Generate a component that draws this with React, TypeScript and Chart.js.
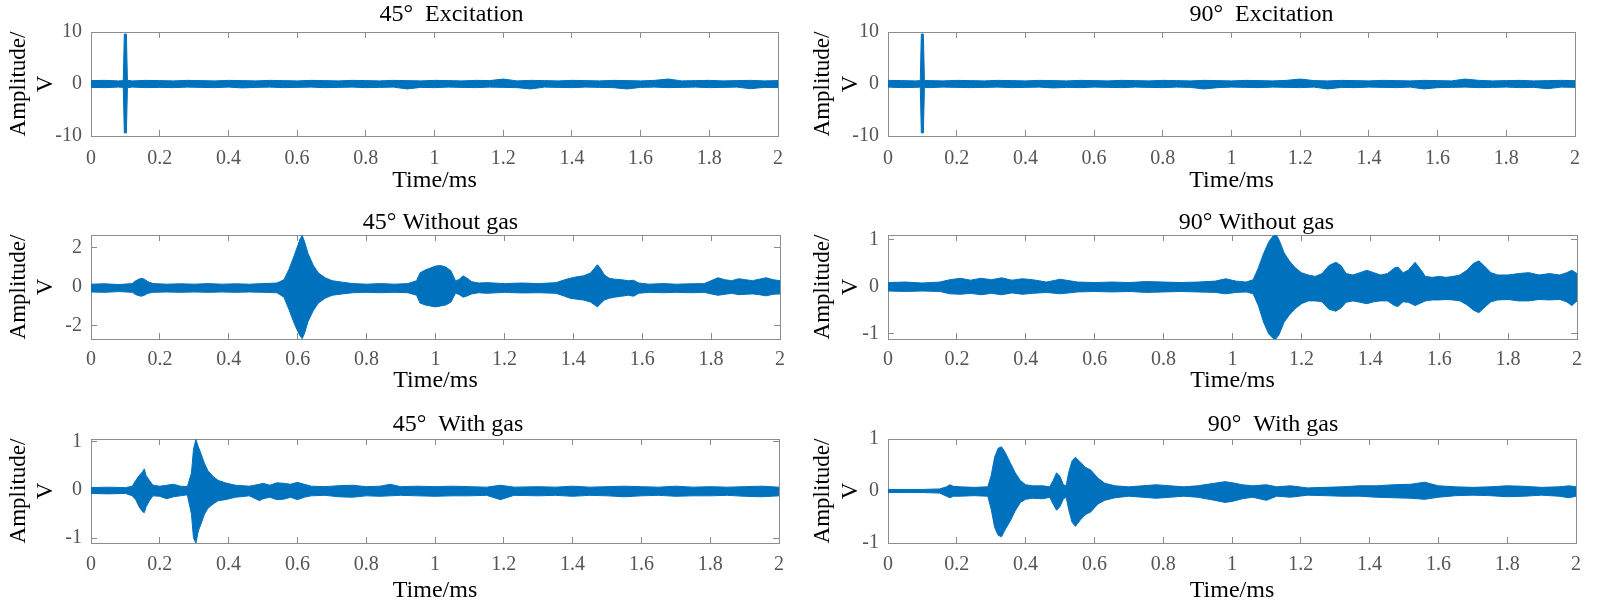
import React, { useEffect, useRef } from 'react';
import { Chart, registerables } from 'chart.js';

Chart.register(...registerables);

// ---------------- data ----------------
const xTickValues = [0, 0.2, 0.4, 0.6, 0.8, 1, 1.2, 1.4, 1.6, 1.8, 2];
const xTickLabels = ['0', '0.2', '0.4', '0.6', '0.8', '1', '1.2', '1.4', '1.6', '1.8', '2'];

const excYTicks = [-10, 0, 10];
const excYLabels = ['-10', '0', '10'];
const nogas45YTicks = [-2, 0, 2];
const nogas45YLabels = ['-2', '0', '2'];
const unitYTicks = [-1, 0, 1];
const unitYLabels = ['-1', '0', '1'];

// 45° excitation (envelope of the recorded signal)
const exc45Time = [
  0, 0.04, 0.08, 0.094, 0.097, 0.103, 0.106, 0.12, 0.16, 0.2,
  0.24, 0.28, 0.32, 0.36, 0.4, 0.44, 0.48, 0.52, 0.56, 0.6,
  0.64, 0.68, 0.72, 0.76, 0.8, 0.84, 0.88, 0.92, 0.96, 1.0,
  1.04, 1.08, 1.12, 1.16, 1.2, 1.24, 1.28, 1.32, 1.36, 1.4,
  1.44, 1.48, 1.52, 1.56, 1.6, 1.64, 1.68, 1.72, 1.76, 1.8,
  1.84, 1.88, 1.92, 1.96, 2.0,
];
const exc45Upper = [
  0.65, 0.7, 0.6, 0.65, 9.6, 9.6, 0.7, 0.6, 0.7, 0.65,
  0.6, 0.7, 0.65, 0.6, 0.7, 0.65, 0.6, 0.7, 0.65, 0.6,
  0.7, 0.65, 0.6, 0.7, 0.65, 0.6, 0.7, 0.65, 0.6, 0.7,
  0.65, 0.6, 0.7, 0.65, 0.95, 0.6, 0.7, 0.65, 0.6, 0.7,
  0.65, 0.6, 0.7, 0.65, 0.6, 0.7, 0.95, 0.6, 0.65, 0.7,
  0.6, 0.65, 0.7, 0.6, 0.65,
];
const exc45Lower = [
  -0.65, -0.7, -0.6, -0.65, -9.4, -9.4, -0.7, -0.6, -0.7, -0.65,
  -0.7, -0.6, -0.65, -0.7, -0.6, -0.75, -0.65, -0.6, -0.7, -0.65,
  -0.6, -0.7, -0.65, -0.6, -0.7, -0.65, -0.6, -0.95, -0.65, -0.7,
  -0.6, -0.65, -0.7, -0.6, -0.65, -0.7, -0.95, -0.6, -0.65, -0.7,
  -0.6, -0.65, -0.7, -0.95, -0.65, -0.6, -0.7, -0.65, -0.6, -0.7,
  -0.65, -0.6, -0.9, -0.65, -0.7,
];

// 90° excitation
const exc90Time = [
  0, 0.04, 0.08, 0.094, 0.097, 0.103, 0.106, 0.12, 0.16, 0.2,
  0.24, 0.28, 0.32, 0.36, 0.4, 0.44, 0.48, 0.52, 0.56, 0.6,
  0.64, 0.68, 0.72, 0.76, 0.8, 0.84, 0.88, 0.92, 0.96, 1.0,
  1.04, 1.08, 1.12, 1.16, 1.2, 1.24, 1.28, 1.32, 1.36, 1.4,
  1.44, 1.48, 1.52, 1.56, 1.6, 1.64, 1.68, 1.72, 1.76, 1.8,
  1.84, 1.88, 1.92, 1.96, 2.0,
];
const exc90Upper = [
  0.7, 0.65, 0.6, 0.65, 9.6, 9.6, 0.7, 0.65, 0.6, 0.7,
  0.65, 0.6, 0.7, 0.65, 0.6, 0.7, 0.65, 0.6, 0.7, 0.65,
  0.6, 0.7, 0.65, 0.6, 0.7, 0.65, 0.6, 0.7, 0.65, 0.6,
  0.7, 0.65, 0.6, 0.7, 0.95, 0.65, 0.6, 0.7, 0.65, 0.6,
  0.7, 0.65, 0.6, 0.7, 0.65, 0.6, 0.95, 0.7, 0.6, 0.65,
  0.7, 0.6, 0.65, 0.7, 0.65,
];
const exc90Lower = [
  -0.6, -0.7, -0.65, -0.6, -9.4, -9.4, -0.65, -0.7, -0.6, -0.65,
  -0.7, -0.65, -0.6, -0.7, -0.65, -0.6, -0.75, -0.65, -0.7, -0.6,
  -0.65, -0.7, -0.6, -0.65, -0.7, -0.6, -0.65, -0.95, -0.7, -0.6,
  -0.65, -0.7, -0.6, -0.65, -0.7, -0.6, -0.95, -0.65, -0.7, -0.6,
  -0.65, -0.7, -0.6, -0.95, -0.7, -0.65, -0.6, -0.7, -0.65, -0.6,
  -0.7, -0.65, -0.9, -0.6, -0.65,
];

// 45° without gas
const nogas45Time = [
  0, 0.04, 0.08, 0.12, 0.13, 0.145, 0.155, 0.165, 0.18, 0.22,
  0.26, 0.3, 0.34, 0.38, 0.42, 0.46, 0.5, 0.54, 0.56, 0.575,
  0.59, 0.6, 0.607, 0.613, 0.62, 0.63, 0.645, 0.66, 0.68, 0.7,
  0.73, 0.76, 0.8, 0.84, 0.88, 0.92, 0.945, 0.955, 0.97, 0.985,
  1.0, 1.015, 1.03, 1.045, 1.058, 1.068, 1.08, 1.09, 1.105, 1.125,
  1.15, 1.2, 1.25, 1.3, 1.35, 1.375, 1.39, 1.41, 1.43, 1.45,
  1.462, 1.47, 1.478, 1.49, 1.505, 1.52, 1.54, 1.56, 1.575, 1.59,
  1.62, 1.66, 1.7, 1.74, 1.78, 1.8, 1.82, 1.84, 1.86, 1.88,
  1.9, 1.92, 1.94, 1.96, 1.98, 2.0,
];
const nogas45Upper = [
  0.12, 0.14, 0.1, 0.15, 0.3, 0.42, 0.38, 0.25, 0.15, 0.12,
  0.14, 0.12, 0.15, 0.12, 0.14, 0.12, 0.15, 0.18, 0.35, 0.9,
  1.6, 2.1, 2.45, 2.62, 2.3, 1.7, 1.1, 0.7, 0.45, 0.3,
  0.22, 0.15, 0.12, 0.15, 0.12, 0.15, 0.3, 0.7, 0.85, 0.95,
  1.05, 1.08, 1.0, 0.8, 0.3, 0.35, 0.55, 0.45, 0.25, 0.18,
  0.2, 0.15, 0.18, 0.15, 0.2, 0.35, 0.42, 0.5, 0.55, 0.7,
  0.95, 1.12, 0.95, 0.6, 0.42, 0.38, 0.35, 0.3, 0.32, 0.18,
  0.12, 0.15, 0.12, 0.14, 0.15, 0.3, 0.45, 0.35, 0.3, 0.4,
  0.35, 0.3, 0.38, 0.45, 0.35, 0.3,
];
const nogas45Lower = [
  -0.28, -0.3, -0.26, -0.3, -0.42, -0.5, -0.45, -0.35, -0.3, -0.28,
  -0.3, -0.28, -0.3, -0.28, -0.3, -0.28, -0.3, -0.32, -0.55, -1.2,
  -1.9, -2.3, -2.55, -2.68, -2.4, -1.8, -1.25, -0.85, -0.6, -0.45,
  -0.38, -0.32, -0.3, -0.32, -0.3, -0.32, -0.45, -0.85, -0.95, -1.0,
  -1.05, -1.0, -0.95, -0.8, -0.35, -0.4, -0.55, -0.5, -0.38, -0.32,
  -0.35, -0.3, -0.33, -0.32, -0.35, -0.5, -0.6, -0.65, -0.7, -0.8,
  -0.95, -1.05, -0.9, -0.7, -0.6, -0.55, -0.5, -0.45, -0.5, -0.35,
  -0.3, -0.32, -0.3, -0.32, -0.3, -0.38, -0.45, -0.4, -0.35, -0.42,
  -0.4, -0.38, -0.42, -0.48, -0.4, -0.38,
];

// 90° without gas
const nogas90Time = [
  0, 0.05, 0.1, 0.15, 0.18, 0.21, 0.24, 0.27, 0.3, 0.33,
  0.36, 0.39, 0.42, 0.46, 0.5, 0.55, 0.6, 0.65, 0.7, 0.75,
  0.8, 0.85, 0.9, 0.95, 0.98, 1.01, 1.04, 1.06, 1.075, 1.09,
  1.105, 1.118, 1.127, 1.135, 1.15, 1.165, 1.18, 1.2, 1.22, 1.24,
  1.26, 1.28, 1.3, 1.315, 1.33, 1.35, 1.37, 1.39, 1.41, 1.43,
  1.45, 1.47, 1.48, 1.495, 1.51, 1.53, 1.545, 1.56, 1.58, 1.6,
  1.62, 1.64, 1.66, 1.68, 1.7, 1.715, 1.73, 1.75, 1.77, 1.8,
  1.83, 1.86, 1.89, 1.92, 1.95, 1.97, 1.985, 2.0,
];
const nogas90Upper = [
  0.09, 0.1, 0.08, 0.1, 0.15, 0.18, 0.14, 0.18, 0.15, 0.19,
  0.14, 0.17, 0.15, 0.1, 0.16, 0.1, 0.09, 0.1, 0.09, 0.11,
  0.1, 0.09, 0.1, 0.12, 0.17, 0.12, 0.1, 0.15, 0.4, 0.7,
  0.95, 1.08, 1.1, 1.0, 0.72, 0.55, 0.42, 0.3, 0.25, 0.22,
  0.28, 0.45, 0.52, 0.45, 0.28, 0.25, 0.3, 0.35, 0.3, 0.25,
  0.28, 0.4, 0.42, 0.3, 0.35, 0.52, 0.38, 0.22, 0.2, 0.22,
  0.2, 0.22, 0.25, 0.35, 0.5, 0.55, 0.45, 0.3, 0.25, 0.25,
  0.28, 0.3, 0.25, 0.28, 0.25, 0.3, 0.35, 0.28,
];
const nogas90Lower = [
  -0.09, -0.1, -0.09, -0.1, -0.15, -0.16, -0.14, -0.17, -0.14, -0.17,
  -0.13, -0.16, -0.14, -0.12, -0.15, -0.11, -0.1, -0.11, -0.1, -0.12,
  -0.11, -0.1, -0.11, -0.12, -0.15, -0.12, -0.11, -0.15, -0.4, -0.75,
  -1.0, -1.1, -1.1, -1.02, -0.75, -0.6, -0.48, -0.36, -0.3, -0.3,
  -0.32, -0.48, -0.52, -0.45, -0.33, -0.3, -0.33, -0.36, -0.32, -0.3,
  -0.3, -0.4, -0.42, -0.32, -0.33, -0.4, -0.35, -0.3, -0.28, -0.28,
  -0.27, -0.28, -0.3, -0.38, -0.5, -0.55, -0.45, -0.32, -0.28, -0.27,
  -0.3, -0.3, -0.27, -0.28, -0.27, -0.32, -0.4, -0.3,
];

// 45° with gas
const gas45Time = [
  0, 0.05, 0.1, 0.12, 0.13, 0.14, 0.15, 0.155, 0.16, 0.17,
  0.18, 0.2, 0.22, 0.24, 0.26, 0.28, 0.292, 0.298, 0.305, 0.312,
  0.32, 0.33, 0.34, 0.355, 0.37, 0.39, 0.42, 0.46, 0.49, 0.5,
  0.52, 0.54, 0.56, 0.58, 0.6, 0.62, 0.64, 0.68, 0.72, 0.76,
  0.8, 0.84, 0.87, 0.9, 0.95, 1.0, 1.05, 1.1, 1.15, 1.19,
  1.23, 1.3, 1.35, 1.4, 1.45, 1.5, 1.55, 1.6, 1.65, 1.7,
  1.75, 1.8, 1.85, 1.9, 1.95, 2.0,
];
const gas45Upper = [
  0.05, 0.06, 0.05, 0.08, 0.2, 0.3, 0.38, 0.44, 0.3, 0.2,
  0.1, 0.08, 0.1, 0.12, 0.08, 0.07, 0.35, 0.85, 1.05, 0.9,
  0.75, 0.55, 0.4, 0.28, 0.2, 0.15, 0.1, 0.08, 0.12, 0.14,
  0.1, 0.15, 0.14, 0.12, 0.16, 0.12, 0.08, 0.07, 0.09, 0.1,
  0.07, 0.08, 0.12, 0.07, 0.08, 0.07, 0.08, 0.07, 0.06, 0.1,
  0.06, 0.07, 0.06, 0.08, 0.06, 0.07, 0.08, 0.07, 0.06, 0.08,
  0.06, 0.07, 0.06, 0.07, 0.08, 0.06,
];
const gas45Lower = [
  -0.07, -0.08, -0.07, -0.12, -0.2, -0.35, -0.45, -0.47, -0.35, -0.22,
  -0.12, -0.13, -0.18, -0.14, -0.12, -0.1, -0.5, -1.0, -1.1, -0.85,
  -0.7, -0.5, -0.38, -0.29, -0.22, -0.2, -0.15, -0.12, -0.22, -0.18,
  -0.15, -0.2, -0.19, -0.15, -0.2, -0.15, -0.12, -0.11, -0.14, -0.15,
  -0.12, -0.13, -0.12, -0.11, -0.12, -0.13, -0.12, -0.12, -0.11, -0.2,
  -0.11, -0.12, -0.11, -0.13, -0.11, -0.12, -0.14, -0.12, -0.11, -0.13,
  -0.12, -0.12, -0.11, -0.13, -0.14, -0.12,
];

// 90° with gas
const gas90Time = [
  0, 0.05, 0.1, 0.15, 0.17, 0.18, 0.19, 0.21, 0.25, 0.29,
  0.3, 0.31, 0.32, 0.33, 0.34, 0.355, 0.37, 0.385, 0.4, 0.42,
  0.45, 0.47, 0.48, 0.49, 0.5, 0.51, 0.518, 0.525, 0.535, 0.545,
  0.56, 0.575, 0.59, 0.61, 0.63, 0.66, 0.7, 0.74, 0.78, 0.82,
  0.86, 0.9, 0.95, 0.98, 1.0, 1.03, 1.06, 1.1, 1.13, 1.17,
  1.22, 1.27, 1.32, 1.37, 1.42, 1.47, 1.52, 1.56, 1.6, 1.65,
  1.7, 1.75, 1.8, 1.85, 1.9, 1.95, 1.98, 2.0,
];
const gas90Upper = [
  0.03, 0.03, 0.03, 0.04, 0.08, 0.12, 0.09, 0.08, 0.07, 0.08,
  0.3, 0.65, 0.82, 0.85, 0.75, 0.55, 0.35, 0.2, 0.12, 0.1,
  0.1, 0.08, 0.2, 0.35, 0.28, 0.12, 0.1, 0.35, 0.58, 0.65,
  0.55, 0.45, 0.4, 0.25, 0.15, 0.1, 0.08, 0.1, 0.12, 0.1,
  0.08, 0.1, 0.15, 0.18, 0.16, 0.12, 0.1, 0.12, 0.08, 0.1,
  0.06, 0.07, 0.08, 0.1, 0.1, 0.12, 0.13, 0.17, 0.1, 0.08,
  0.07, 0.08, 0.1, 0.09, 0.07, 0.08, 0.1, 0.08,
];
const gas90Lower = [
  -0.03, -0.03, -0.03, -0.04, -0.1, -0.13, -0.1, -0.1, -0.09, -0.1,
  -0.35, -0.7, -0.85, -0.88, -0.75, -0.58, -0.38, -0.22, -0.16, -0.14,
  -0.15, -0.12, -0.25, -0.37, -0.3, -0.15, -0.12, -0.35, -0.6, -0.68,
  -0.55, -0.45, -0.4, -0.25, -0.18, -0.13, -0.1, -0.12, -0.14, -0.12,
  -0.1, -0.12, -0.18, -0.22, -0.2, -0.15, -0.12, -0.18, -0.1, -0.12,
  -0.08, -0.09, -0.1, -0.1, -0.12, -0.13, -0.14, -0.16, -0.12, -0.09,
  -0.08, -0.09, -0.11, -0.1, -0.08, -0.1, -0.13, -0.1,
];

// ---------------- styling / layout ----------------
const BLUE = '#0072BD';
const AXIS_GRAY = '#8c8c8c';
const TICK_GRAY = '#555555';
const SERIF = '"Liberation Serif", "Times New Roman", "DejaVu Serif", serif';

const COLS = [
  { left: 0, padRight: 11, yTitleTop: 5 },
  { left: 797, padRight: 10, yTitleTop: 12.5 },
];
const ROWS = [
  { top: 0, height: 203, titleTop: 3, titleBottom: 5, xAxisHeight: 67, tickPad: 17, xTitleBottom: 7.6 },
  { top: 203, height: 203, titleTop: 8, titleBottom: 0, xAxisHeight: 67, tickPad: 15, xTitleBottom: 10.6 },
  { top: 406, height: 201, titleTop: 7, titleBottom: 2, xAxisHeight: 64, tickPad: 16, xTitleBottom: 1.6 },
];

const PANELS = [
  { row: 0, col: 0, title: '45°  Excitation', dx: 17, time: exc45Time, upper: exc45Upper, lower: exc45Lower, yMin: -10, yMax: 10, yTicks: excYTicks, yLabels: excYLabels },
  { row: 0, col: 1, title: '90°  Excitation', dx: 30, time: exc90Time, upper: exc90Upper, lower: exc90Lower, yMin: -10, yMax: 10, yTicks: excYTicks, yLabels: excYLabels },
  { row: 1, col: 0, title: '45° Without gas', dx: 5, time: nogas45Time, upper: nogas45Upper, lower: nogas45Lower, yMin: -2.7, yMax: 2.65, yTicks: nogas45YTicks, yLabels: nogas45YLabels },
  { row: 1, col: 1, title: '90° Without gas', dx: 24, time: nogas90Time, upper: nogas90Upper, lower: nogas90Lower, yMin: -1.11, yMax: 1.1, yTicks: unitYTicks, yLabels: unitYLabels },
  { row: 2, col: 0, title: '45°  With gas', dx: 23, time: gas45Time, upper: gas45Upper, lower: gas45Lower, yMin: -1.1, yMax: 1.06, yTicks: unitYTicks, yLabels: unitYLabels },
  { row: 2, col: 1, title: '90°  With gas', dx: 41, time: gas90Time, upper: gas90Upper, lower: gas90Lower, yMin: -1, yMax: 1, yTicks: unitYTicks, yLabels: unitYLabels },
];

const titleShift = {
  id: 'titleShift',
  afterLayout(chart: any, _args: any, opts: any) {
    const tb = chart.titleBlock;
    if (tb && opts && opts.dx) {
      tb.left += opts.dx;
      tb.right += opts.dx;
    }
  },
};

function Panel({ p }: { p: any }) {
  const ref = useRef<HTMLCanvasElement | null>(null);
  const row = ROWS[p.row];
  const col = COLS[p.col];
  const width = 800;
  const height = row.height;

  useEffect(() => {
    const canvas = ref.current;
    if (!canvas) return;
    const n = Math.min(p.time.length, p.upper.length, p.lower.length);
    const upperPts = [];
    const lowerPts = [];
    for (let i = 0; i < n; i++) {
      upperPts.push({ x: p.time[i], y: p.upper[i] });
      lowerPts.push({ x: p.time[i], y: p.lower[i] });
    }
    const gridOpts = {
      display: true,
      drawOnChartArea: false,
      drawTicks: true,
      tickLength: -6,
      color: AXIS_GRAY,
      lineWidth: 1,
    };
    const borderOpts = { display: true, color: AXIS_GRAY, width: 1 };
    const setXTicks = (s: any) => {
      s.ticks = xTickValues.map((v) => ({ value: v }));
    };
    const setYTicks = (s: any) => {
      s.ticks = p.yTicks.map((v: number) => ({ value: v }));
    };
    const chart = new Chart(canvas, {
      type: 'line',
      data: {
        datasets: [
          {
            label: 'upper',
            data: upperPts,
            borderColor: BLUE,
            backgroundColor: BLUE,
            borderWidth: 1,
            pointRadius: 0,
            tension: 0,
            fill: '+1',
          },
          {
            label: 'lower',
            data: lowerPts,
            borderColor: BLUE,
            backgroundColor: BLUE,
            borderWidth: 1,
            pointRadius: 0,
            tension: 0,
            fill: false,
          },
        ],
      },
      options: {
        responsive: false,
        animation: false,
        devicePixelRatio: 1,
        events: [],
        layout: { padding: { left: 0, right: col.padRight, top: 0, bottom: 0 } },
        plugins: {
          legend: { display: false },
          tooltip: { enabled: false },
          title: {
            display: true,
            fullSize: false,
            text: p.title,
            color: '#000',
            font: { family: SERIF, size: 24, weight: 'normal', lineHeight: 1 },
            padding: { top: row.titleTop, bottom: row.titleBottom },
          },
          titleShift: { dx: p.dx },
        } as any,
        scales: {
          x: {
            type: 'linear',
            position: 'bottom',
            min: 0,
            max: 2,
            afterBuildTicks: setXTicks,
            ticks: {
              autoSkip: false,
              maxRotation: 0,
              padding: row.tickPad,
              color: TICK_GRAY,
              font: { family: SERIF, size: 20 },
              callback: (_v: any, i: number) => xTickLabels[i],
            },
            grid: gridOpts,
            border: borderOpts,
            title: {
              display: true,
              text: 'Time/ms',
              color: '#000',
              font: { family: SERIF, size: 24, lineHeight: 1.2 },
              padding: { top: 0, bottom: row.xTitleBottom },
            },
            afterFit: (s: any) => {
              s.height = row.xAxisHeight;
            },
          },
          xTop: {
            type: 'linear',
            position: 'top',
            min: 0,
            max: 2,
            afterBuildTicks: setXTicks,
            ticks: { display: false },
            grid: gridOpts,
            border: borderOpts,
            afterFit: (s: any) => {
              s.height = 0;
            },
          },
          y: {
            type: 'linear',
            position: 'left',
            min: p.yMin,
            max: p.yMax,
            afterBuildTicks: setYTicks,
            ticks: {
              autoSkip: false,
              padding: 15,
              color: TICK_GRAY,
              font: { family: SERIF, size: 20 },
              callback: (_v: any, i: number) => p.yLabels[i],
            },
            grid: gridOpts,
            border: borderOpts,
            title: {
              display: true,
              text: ['Amplitude/', 'V'],
              color: '#000',
              font: { family: SERIF, size: 23, lineHeight: 1.2 },
              padding: { top: col.yTitleTop, bottom: 0 },
            },
            afterFit: (s: any) => {
              s.width = 91;
            },
          },
          y2: {
            type: 'linear',
            position: 'right',
            min: p.yMin,
            max: p.yMax,
            afterBuildTicks: setYTicks,
            ticks: { display: false },
            grid: gridOpts,
            border: borderOpts,
            afterFit: (s: any) => {
              s.width = 0;
            },
          },
        } as any,
      },
      plugins: [titleShift],
    } as any);
    return () => chart.destroy();
  }, []);

  return (
    <canvas
      ref={ref}
      width={width}
      height={height}
      style={{ position: 'absolute', left: col.left, top: row.top, width, height, display: 'block' }}
    />
  );
}

export default function App() {
  return (
    <div style={{ position: 'absolute', left: 0, top: 0, width: 1600, height: 607, background: '#fff', overflow: 'hidden' }}>
      {PANELS.map((p, i) => (
        <Panel key={i} p={p} />
      ))}
    </div>
  );
}
